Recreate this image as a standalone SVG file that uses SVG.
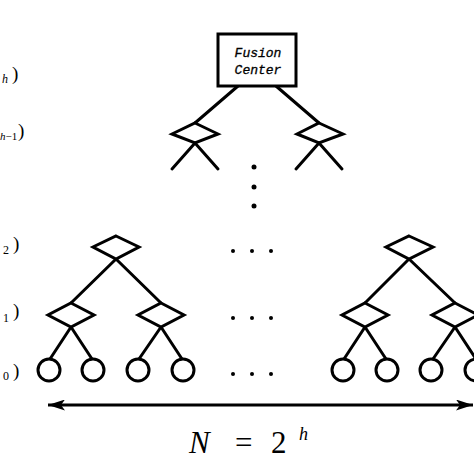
<svg xmlns="http://www.w3.org/2000/svg" width="474" height="474" viewBox="0 0 474 474">
<style>
.s{fill:none;stroke:#000;stroke-width:3;stroke-linejoin:miter;stroke-linecap:round}
.d{fill:#fff;stroke:#000;stroke-width:3;stroke-linejoin:miter}
.c{fill:#fff;stroke:#000;stroke-width:3}
.dot{fill:#000}
.lab{font-family:"Liberation Serif","Times New Roman",serif;fill:#000}
.fc{font-family:"Liberation Mono","Courier New",monospace;font-style:italic;font-size:13px;fill:#000;text-anchor:middle;stroke:#000;stroke-width:0.3}
</style>
<defs>
<marker id="ah" viewBox="0 0 17 11" refX="17" refY="5.5" markerWidth="17" markerHeight="11" markerUnits="userSpaceOnUse" orient="auto-start-reverse">
<path d="M0,0 L17,5.5 L0,11 L4,5.5 Z" fill="#000"/>
</marker>
</defs>
<rect width="474" height="474" fill="#fff"/>

<!-- level labels -->
<g id="labels" class="lab">
<text x="2" y="83" font-size="12" font-style="italic">h</text>
<text x="12" y="80" font-size="19">)</text>
<text x="0" y="140" font-size="11"><tspan font-style="italic">h</tspan>−1</text>
<text x="18" y="137" font-size="19">)</text>
<text x="3" y="254" font-size="12">2</text>
<text x="13" y="250" font-size="19">)</text>
<text x="3" y="322" font-size="12">1</text>
<text x="13" y="317" font-size="19">)</text>
<text x="3" y="380" font-size="12">0</text>
<text x="13" y="377" font-size="19">)</text>
</g>

<!-- connectors -->
<g id="connectors" class="s">
<line x1="238" y1="86" x2="195" y2="123"/>
<line x1="276" y1="86" x2="319" y2="123"/>
<line x1="195" y1="143" x2="172" y2="169"/>
<line x1="195" y1="143" x2="218" y2="169"/>
<line x1="319" y1="143" x2="296" y2="169"/>
<line x1="319" y1="143" x2="342" y2="169"/>
<!-- left tree -->
<line x1="116" y1="259" x2="71" y2="303"/>
<line x1="116" y1="259" x2="161" y2="303"/>
<line x1="71" y1="327" x2="50" y2="359"/>
<line x1="71" y1="327" x2="92" y2="359"/>
<line x1="161" y1="327" x2="139" y2="359"/>
<line x1="161" y1="327" x2="182" y2="359"/>
<!-- right tree -->
<line x1="409" y1="259" x2="365" y2="303"/>
<line x1="409" y1="259" x2="455" y2="303"/>
<line x1="365" y1="327" x2="344" y2="359"/>
<line x1="365" y1="327" x2="386" y2="359"/>
<line x1="455" y1="327" x2="433" y2="359"/>
<line x1="455" y1="327" x2="476" y2="359"/>
</g>

<g id="fusion-center">
<rect x="218" y="34" width="78" height="52" fill="#fff" stroke="#000" stroke-width="3"/>
<text class="fc" x="258" y="57">Fusion</text>
<text class="fc" x="258" y="74">Center</text>
</g>

<g id="dh1-left"><polygon class="d" points="195,123 218,134 195,143 172,134"/></g>
<g id="dh1-right"><polygon class="d" points="319,123 343,134 319,143 297,134"/></g>

<g id="d2-left"><polygon class="d" points="116,236 139,247 116,259 93,247"/></g>
<g id="d1-ll"><polygon class="d" points="71,303 94,315 71,327 48,315"/></g>
<g id="d1-lr"><polygon class="d" points="161,303 184,315 161,327 138,315"/></g>
<g id="d2-right"><polygon class="d" points="409,236 433,247 409,259 386,247"/></g>
<g id="d1-rl"><polygon class="d" points="365,303 388,315 365,327 342,315"/></g>
<g id="d1-rr"><polygon class="d" points="455,303 478,315 455,327 432,315"/></g>

<g id="leaf-1"><circle class="c" cx="49" cy="370" r="11"/></g>
<g id="leaf-2"><circle class="c" cx="93" cy="370" r="11"/></g>
<g id="leaf-3"><circle class="c" cx="138" cy="370" r="11"/></g>
<g id="leaf-4"><circle class="c" cx="183" cy="370" r="11"/></g>
<g id="leaf-5"><circle class="c" cx="343" cy="370" r="11"/></g>
<g id="leaf-6"><circle class="c" cx="387" cy="370" r="11"/></g>
<g id="leaf-7"><circle class="c" cx="431" cy="370" r="11"/></g>
<g id="leaf-8"><circle class="c" cx="476" cy="370" r="11"/></g>

<g id="ellipses" class="dot">
<circle cx="254" cy="167" r="2.5"/>
<circle cx="254" cy="187" r="2.5"/>
<circle cx="254" cy="206" r="2.5"/>
<circle cx="233" cy="251" r="2"/>
<circle cx="252" cy="251" r="2"/>
<circle cx="271" cy="251" r="2"/>
<circle cx="233" cy="318" r="2"/>
<circle cx="252" cy="318" r="2"/>
<circle cx="271" cy="318" r="2"/>
<circle cx="233" cy="374" r="2"/>
<circle cx="252" cy="374" r="2"/>
<circle cx="271" cy="374" r="2"/>
</g>

<g id="span-arrow">
<line x1="48" y1="405" x2="473" y2="405" stroke="#000" stroke-width="2.8" marker-start="url(#ah)" marker-end="url(#ah)"/>
</g>

<g id="formula" class="lab">
<text x="189" y="453" font-size="31" font-style="italic">N</text>
<text x="235" y="453" font-size="31">=</text>
<text x="271" y="453" font-size="31">2</text>
<text x="299" y="440" font-size="18" font-style="italic">h</text>
</g>
</svg>
